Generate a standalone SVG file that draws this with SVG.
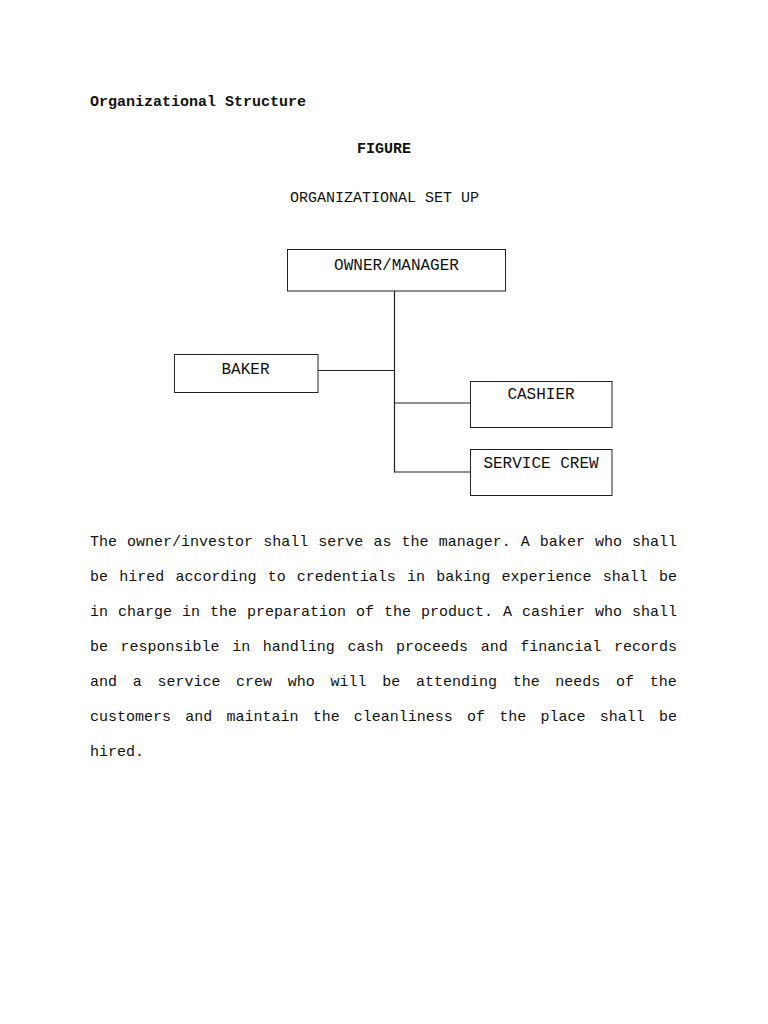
<svg xmlns="http://www.w3.org/2000/svg" width="768" height="1024" viewBox="0 0 768 1024">
<style>
.t{font-family:"Liberation Mono","Courier New",monospace;font-size:15px;fill:#111}
.b{font-weight:bold}
.lbl{font-family:"Liberation Mono","Courier New",monospace;font-size:16px;fill:#111;text-anchor:middle}
.box{fill:#fff;stroke:#222;stroke-width:1}
.con{stroke:#222;stroke-width:1.2;fill:none}
</style>
<rect width="768" height="1024" fill="#fff"/>
<text class="t b" x="90" y="106">Organizational Structure</text>
<text class="t b" x="357" y="153">FIGURE</text>
<text class="t" x="290" y="202">ORGANIZATIONAL SET UP</text>
<g id="connectors">
<line class="con" x1="394.5" y1="291" x2="394.5" y2="472.5"/>
<line class="con" x1="318" y1="370.5" x2="394.5" y2="370.5"/>
<line class="con" x1="394.5" y1="403" x2="470" y2="403"/>
<line class="con" x1="394.5" y1="472" x2="470" y2="472"/>
</g>
<g id="owner">
<rect class="box" x="287.5" y="249.5" width="218" height="41.5"/>
<text class="lbl" x="396.5" y="269.5">OWNER/MANAGER</text>
</g>
<g id="baker">
<rect class="box" x="174.5" y="354.5" width="143.5" height="38"/>
<text class="lbl" x="245.5" y="374">BAKER</text>
</g>
<g id="cashier">
<rect class="box" x="470.5" y="381.5" width="141.5" height="46"/>
<text class="lbl" x="541" y="398.5">CASHIER</text>
</g>
<g id="service">
<rect class="box" x="470.5" y="449.5" width="141.5" height="46"/>
<text class="lbl" x="541" y="467.5">SERVICE CREW</text>
</g>
<g id="paragraph">
<text class="t" x="90" y="546" word-spacing="1.1">The owner/investor shall serve as the manager. A baker who shall</text>
<text class="t" x="90" y="581" word-spacing="2.2">be hired according to credentials in baking experience shall be</text>
<text class="t" x="90" y="616" word-spacing="1.0">in charge in the preparation of the product. A cashier who shall</text>
<text class="t" x="90" y="651" word-spacing="3.6">be responsible in handling cash proceeds and financial records</text>
<text class="t" x="90" y="686" word-spacing="6.7">and a service crew who will be attending the needs of the</text>
<text class="t" x="90" y="721" word-spacing="5.2">customers and maintain the cleanliness of the place shall be</text>
<text class="t" x="90" y="756">hired.</text>
</g>
</svg>
